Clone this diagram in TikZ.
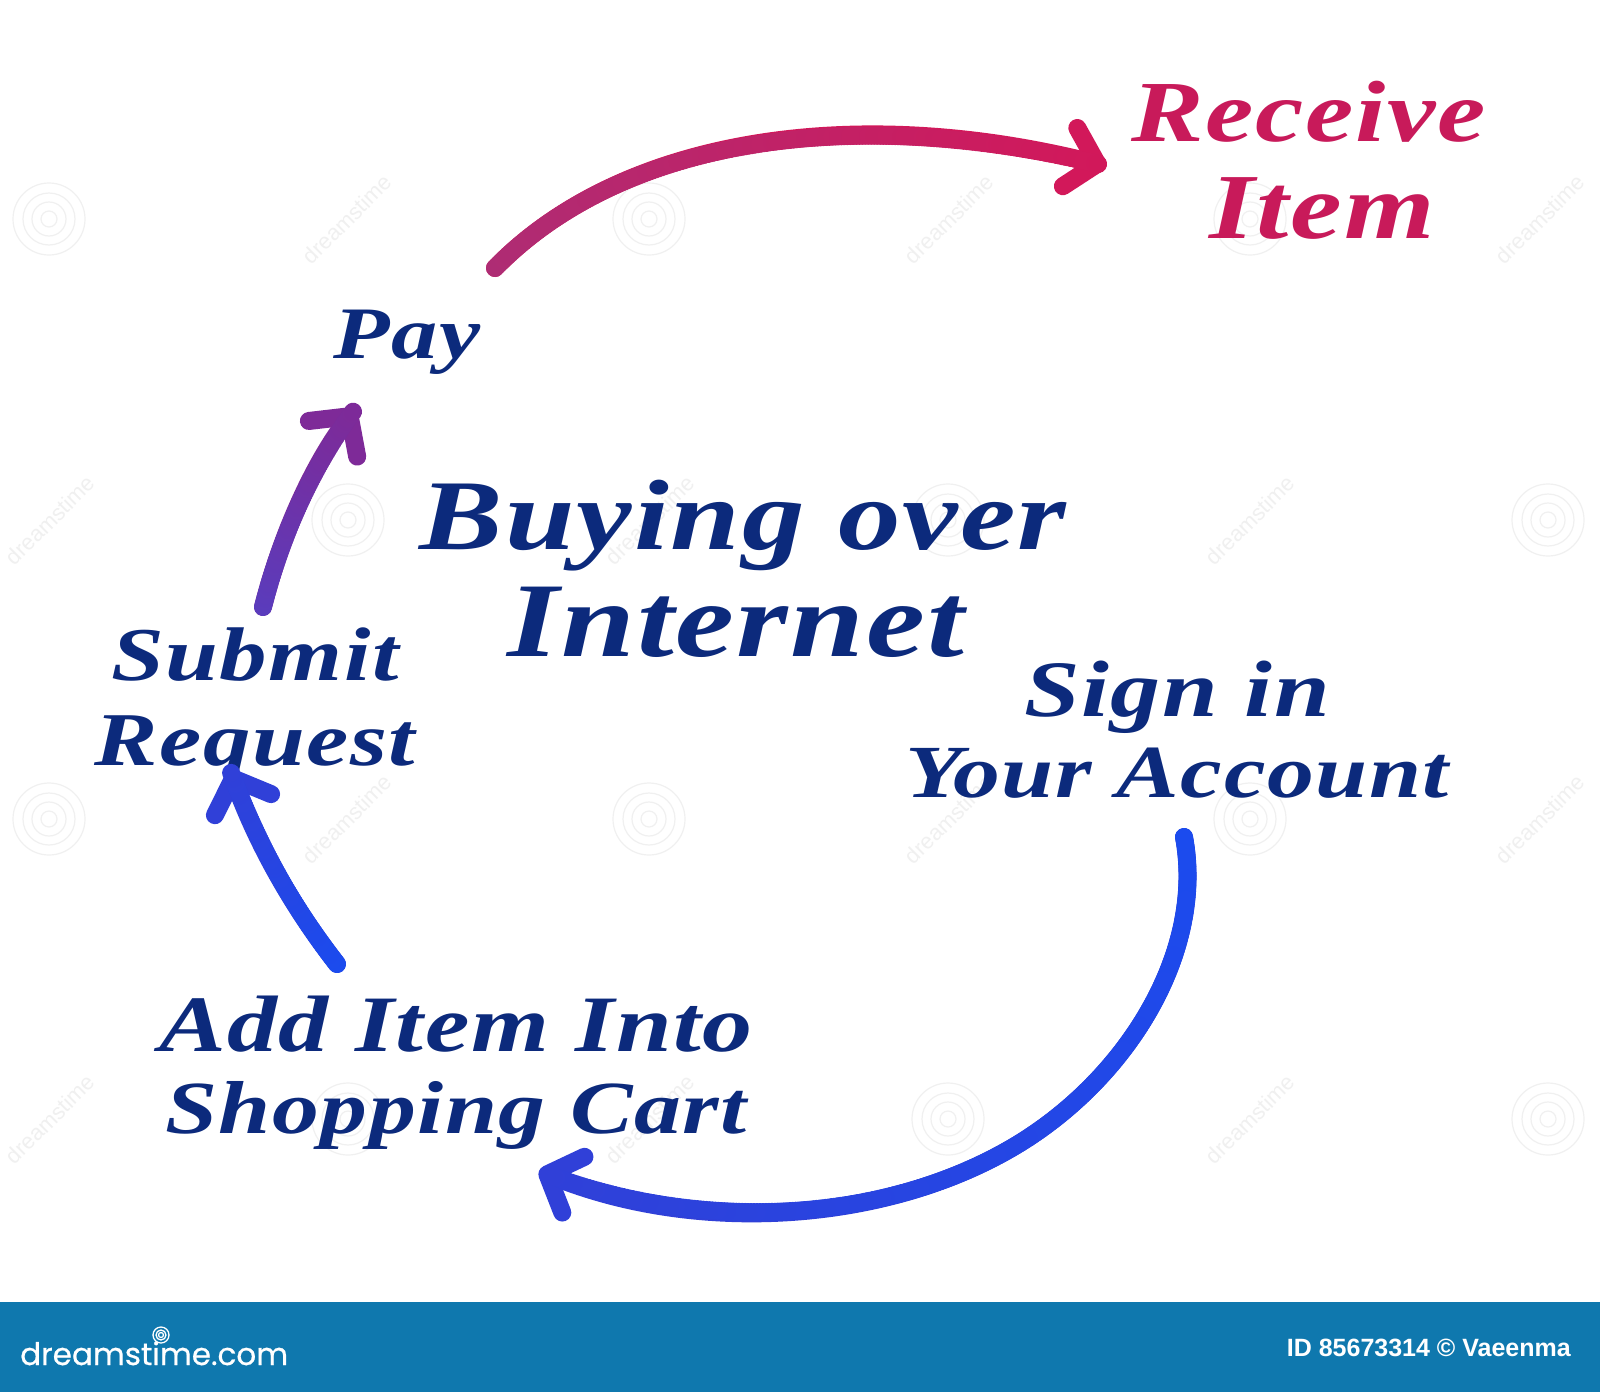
\documentclass[tikz,border=0pt]{standalone}
\usepackage{fontspec}
\usetikzlibrary{arrows.meta,decorations.markings}
\setmainfont{Liberation Serif}
\newfontfamily\handfont[FakeStretch=1.25,LetterSpace=2]{Liberation Serif Bold Italic}
\newfontfamily\idfont{Liberation Sans}
\newfontfamily\logofont[FakeBold=0.6]{Poppins}
\definecolor{navytext}{HTML}{0C2A7C}
\definecolor{redtext}{HTML}{C81A5A}
\definecolor{bannerblue}{HTML}{0F78AE}
\definecolor{ringgray}{HTML}{F0F0F0}
\definecolor{topA}{HTML}{AE2C74}
\definecolor{topB}{HTML}{D2185A}
\definecolor{purA}{HTML}{5A3CBC}
\definecolor{purB}{HTML}{7E2A98}
\definecolor{bluA}{HTML}{1B4BEE}
\definecolor{bluB}{HTML}{3040D8}
\tikzset{
  x=1pt,y=-1pt,
  lbl/.style={inner sep=0pt,outer sep=0pt,align=center},
  navylbl/.style={lbl,text=navytext},
  redlbl/.style={lbl,text=redtext},
  curvearrow/.style n args={2}{line width=18pt,line cap=round,line join=round,draw=#2,
    -{Straight Barb[round,length=28pt,width=60pt]},
    postaction={decorate,decoration={markings,
      mark=between positions 0 and 0.985 step 3pt with {
        \pgfmathsetmacro\mixpct{100*(\pgfkeysvalueof{/pgf/decoration/mark info/distance from start}/\pgfdecoratedpathlength)}
        \fill[color=#2!\mixpct!#1] (0,0) circle[radius=9pt];
      }}}},
  ring/.style={draw=ringgray,line width=1.2pt},
  wmark/.style={text=ringgray,rotate=45,font=\idfont\fontsize{22}{22}\selectfont,inner sep=0pt}
}
\newcommand{\wmring}[2]{%
  \foreach \rr in {8,17,26,36}{\draw[ring] (#1,#2) circle[radius=\rr pt];}
}
\begin{document}
\begin{tikzpicture}
\useasboundingbox (0,0) rectangle (1600,1392);
\fill[white] (0,0) rectangle (1600,1392);
% watermark
\foreach \px/\py in {49/219,649/219,1250/219,348/520,948/520,1548/520,49/819,649/819,1250/819,348/1119,948/1119,1548/1119}{\wmring{\px}{\py}}
\foreach \px/\py in {347/219,949/219,1540/219,50/520,650/520,1250/520,347/819,949/819,1540/819,50/1119,650/1119,1250/1119}{
  \node[wmark] at (\px,\py) {dreamstime};
}
% labels
\node[redlbl,font=\handfont\fontsize{87}{97}\selectfont] (receive) at (1309,160) {Receive\\\hspace*{26pt}\fontsize{93}{97}\selectfont Item};
\node[navylbl,font=\handfont\fontsize{74}{74}\selectfont] (pay) at (407,342) {Pay};
\node[navylbl,font=\handfont\fontsize{100}{107}\selectfont] (title) at (743,569) {Buying over\\\hspace*{-14pt}\fontsize{106}{107}\selectfont Internet};
\node[navylbl,font=\handfont\fontsize{80}{81}\selectfont] (sign) at (1177,730) {Sign in\\\fontsize{75}{81}\selectfont Your Account};
\node[navylbl,font=\handfont\fontsize{76}{85}\selectfont] (submit) at (255,705) {Submit\\Request};
\node[navylbl,font=\handfont\fontsize{80}{82}\selectfont] (cart) at (456,1073) {Add Item Into\\\fontsize{75}{82}\selectfont Shopping Cart};
% free ends of the connectors
\coordinate (topS) at (495,268);
\coordinate (topE) at (1106,166);
\coordinate (purS) at (263,607);
\coordinate (purE) at (355,409);
\coordinate (addS) at (337,964);
\coordinate (addE) at (230,770);
\coordinate (bigS) at (1184,837);
\coordinate (bigM) at (1020,1143);
\coordinate (bigE) at (539,1171);
% connectors
\draw[curvearrow={topA}{topB}] (topS) .. controls (625,135) and (860,105) .. (topE);
\draw[curvearrow={purA}{purB}] (purS) .. controls (280,540) and (310,470) .. (purE);
\draw[curvearrow={bluA}{bluB}] (addS) .. controls (295,910) and (260,850) .. (addE);
\draw[curvearrow={bluA}{bluB}] (bigS) .. controls (1205,950) and (1130,1075) .. (bigM) .. controls (890,1223) and (700,1235) .. (bigE);
% banner
\fill[bannerblue] (0,1302) rectangle (1600,1392);
\node[anchor=base west,inner sep=0pt,text=white,font=\logofont\fontsize{31}{31}\selectfont] (logo) at (20,1365) {dreamstime.com};
\foreach \rr in {2.5,5,8}{\draw[white,line width=1.3pt] (161,1335) circle[radius=\rr pt];}
\node[anchor=base east,inner sep=0pt,text=white,font=\idfont\bfseries\fontsize{25}{25}\selectfont] (idtext) at (1571,1356) {ID 85673314 © Vaeenma};
\end{tikzpicture}
\end{document}
